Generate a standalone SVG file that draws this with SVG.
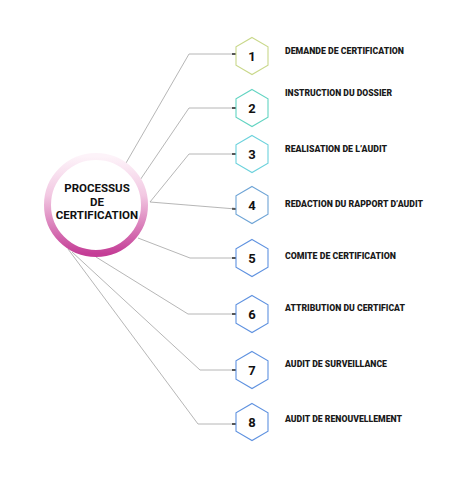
<svg xmlns="http://www.w3.org/2000/svg" width="474" height="479" viewBox="0 0 474 479">
<style>
.conn{fill:none;stroke:#a3a3a3;stroke-width:0.8}
.hex{fill:#fff;stroke-width:1.1}
.num{font-family:Roboto,"Liberation Sans",sans-serif;font-weight:bold;font-size:13px;fill:#111;text-anchor:middle}
.lbl{font-family:Roboto,"Liberation Sans",sans-serif;font-weight:900;font-size:8.6px;fill:#1a1a1a}
.title{font-family:Roboto,"Liberation Sans",sans-serif;font-weight:bold;font-size:11.5px;fill:#111;text-anchor:middle}
</style>
<defs>
<linearGradient id="ring" x1="0" y1="0" x2="0" y2="1">
<stop offset="0" stop-color="#fdf3f9"/>
<stop offset="0.4" stop-color="#f2c8e2"/>
<stop offset="1" stop-color="#c43d96"/>
</linearGradient>
<marker id="tick" viewBox="0 0 4 4" refX="4" refY="2" markerWidth="4" markerHeight="4" markerUnits="userSpaceOnUse" orient="auto">
<rect x="0" y="1" width="4" height="2" fill="#555"/>
</marker>
<polygon id="hx" points="0,-18.5 16,-9.25 16,9.25 0,18.5 -16,9.25 -16,-9.25"/>
</defs>
<rect width="474" height="479" fill="#fff"/>
<g id="connectors">
<polyline class="conn" marker-end="url(#tick)" points="126,163 189,54 236,54"/>
<polyline class="conn" marker-end="url(#tick)" points="138,183 189,108 236,108"/>
<polyline class="conn" marker-end="url(#tick)" points="150,202 189,154 236,154"/>
<polyline class="conn" marker-end="url(#tick)" points="150,202 236,209"/>
<polyline class="conn" marker-end="url(#tick)" points="138,238 190,258 236,258"/>
<polyline class="conn" marker-end="url(#tick)" points="96,257 188,314 236,314"/>
<polyline class="conn" marker-end="url(#tick)" points="72,252 200,370 236,370"/>
<polyline class="conn" marker-end="url(#tick)" points="68,249 198,424 236,424"/>
</g>
<g id="center">
<circle cx="96" cy="205" r="48.5" fill="#fff" stroke="url(#ring)" stroke-width="7"/>
<text class="title" x="97" y="192">PROCESSUS</text>
<text class="title" x="97" y="206">DE</text>
<text class="title" x="97" y="219">CERTIFICATION</text>
</g>
<g id="step1">
<use href="#hx" x="252" y="56" class="hex" stroke="#c9d88a"/>
<text class="num" x="252" y="61">1</text>
<text class="lbl" x="285" y="54" textLength="119" lengthAdjust="spacingAndGlyphs">DEMANDE DE CERTIFICATION</text>
</g>
<g id="step2">
<use href="#hx" x="252" y="108" class="hex" stroke="#62d4c2"/>
<text class="num" x="252" y="113">2</text>
<text class="lbl" x="285" y="96" textLength="107" lengthAdjust="spacingAndGlyphs">INSTRUCTION DU DOSSIER</text>
</g>
<g id="step3">
<use href="#hx" x="252" y="154" class="hex" stroke="#6cd2dc"/>
<text class="num" x="252" y="159">3</text>
<text class="lbl" x="285" y="152" textLength="102" lengthAdjust="spacingAndGlyphs">REALISATION DE L’AUDIT</text>
</g>
<g id="step4">
<use href="#hx" x="252" y="205" class="hex" stroke="#6ea4d6"/>
<text class="num" x="252" y="210">4</text>
<text class="lbl" x="285" y="207" textLength="138" lengthAdjust="spacingAndGlyphs">REDACTION DU RAPPORT D’AUDIT</text>
</g>
<g id="step5">
<use href="#hx" x="252" y="258" class="hex" stroke="#5f92e0"/>
<text class="num" x="252" y="263">5</text>
<text class="lbl" x="285" y="259" textLength="111" lengthAdjust="spacingAndGlyphs">COMITE DE CERTIFICATION</text>
</g>
<g id="step6">
<use href="#hx" x="252" y="314" class="hex" stroke="#5f92e0"/>
<text class="num" x="252" y="319">6</text>
<text class="lbl" x="285" y="311" textLength="120" lengthAdjust="spacingAndGlyphs">ATTRIBUTION DU CERTIFICAT</text>
</g>
<g id="step7">
<use href="#hx" x="252" y="370" class="hex" stroke="#5f92e0"/>
<text class="num" x="252" y="375">7</text>
<text class="lbl" x="285" y="367" textLength="102" lengthAdjust="spacingAndGlyphs">AUDIT DE SURVEILLANCE</text>
</g>
<g id="step8">
<use href="#hx" x="252" y="422" class="hex" stroke="#5f92e0"/>
<text class="num" x="252" y="427">8</text>
<text class="lbl" x="285" y="422" textLength="117" lengthAdjust="spacingAndGlyphs">AUDIT DE RENOUVELLEMENT</text>
</g>
</svg>
